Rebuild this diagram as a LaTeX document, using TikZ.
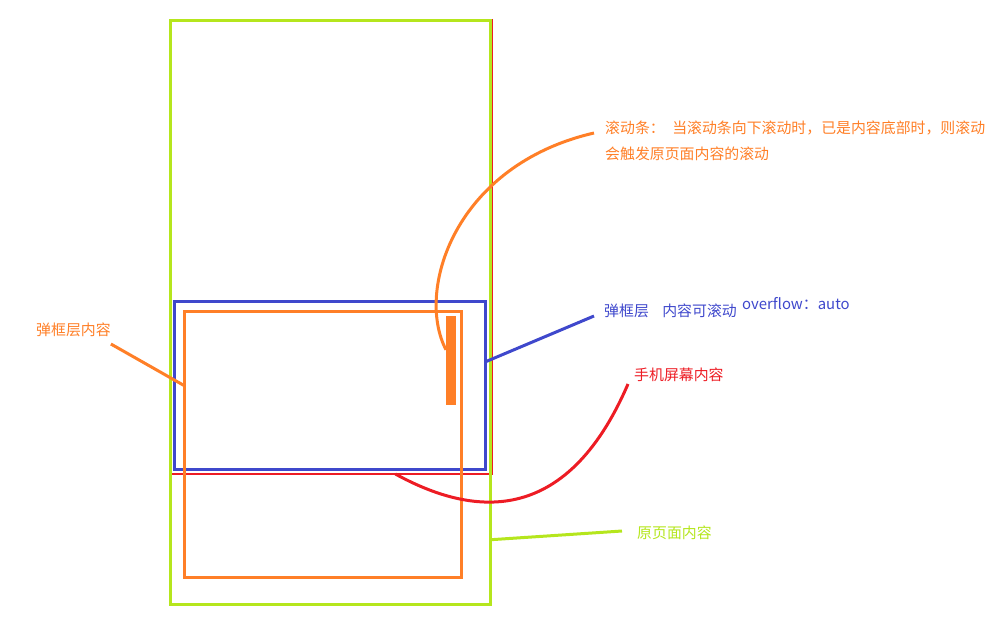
\documentclass[tikz,border=0pt]{standalone}
\usepackage{fontspec}
\setmainfont{Noto Sans CJK SC}
\usetikzlibrary{positioning,calc}
\definecolor{pagegreen}{RGB}{181,230,29}
\definecolor{popblue}{RGB}{63,72,204}
\definecolor{boxorange}{RGB}{255,127,39}
\definecolor{screenred}{RGB}{237,28,36}

\begin{document}
\begin{tikzpicture}[
		x=1pt,y=-1pt,
		box/.style={
			draw,
			fill=none,
			inner sep=0,
			outer sep=0
		},
		lbl/.style={
			anchor=west,
			inner sep=0,
			font=\fontsize{14.9}{26}\selectfont
		},
		link/.style={line width=3pt}
		]
		\useasboundingbox (0,0) rectangle (1003,633);
		% Boxes
		\node[box,draw=screenred,line width=1.5pt,minimum width=322pt,minimum height=454pt] (screen) at (331,247) {};
		\node[box,draw=pagegreen,line width=3pt,minimum width=320pt,minimum height=584pt] (page) at (330,312) {};
		\node[box,draw=popblue,line width=3pt,minimum width=311pt,minimum height=168pt] (popup) at (329.5,385) {};
		\node[box,draw=boxorange,line width=3pt,minimum width=277pt,minimum height=266pt] (content) at (322.5,444) {};
		\node[box,draw=none,fill=boxorange,minimum width=10pt,minimum height=89pt] (bar) at (451,360.5) {};
		% Labels
		\node[lbl,text=boxorange,align=left] (barlbl) at (605,141)
			{滚动条：\hspace{0.5em}当滚动条向下滚动时，已是内容底部时，则滚动\\会触发原页面内容的滚动};
		\node[lbl,text=popblue] (poplbl) at (604,311) {弹框层\hspace{0.9em}内容可滚动};
		\node[lbl,text=popblue] (overflow) at (742,304) {overflow：auto};
		\node[lbl,text=screenred] (screenlbl) at (634,375) {手机屏幕内容};
		\node[lbl,text=pagegreen] (pagelbl) at (637,533) {原页面内容};
		\node[lbl,text=boxorange] (contentlbl) at (36,330) {弹框层内容};
		% Connectors
		\draw[link,boxorange] ([xshift=-11pt,yshift=8pt]barlbl.west)
			.. controls (455,165) and (415,290) .. ($(bar.north west)!0.38!(bar.south west)$);
		\draw[link,popblue] ($(popup.north east)!0.363!(popup.south east)$) -- ([xshift=-10pt,yshift=-5pt]poplbl.west);
		\draw[link,screenred] ($(screen.south west)!0.7!(screen.south east)$)
			.. controls (470,515) and (565,530) .. ([xshift=-6pt,yshift=-9pt]screenlbl.west);
		\draw[link,pagegreen] ($(page.north east)!0.89!(page.south east)$) -- ([xshift=-15pt,yshift=2pt]pagelbl.west);
		\draw[link,boxorange] ([yshift=-14pt]contentlbl.east) -- ($(content.north west)!0.28!(content.south west)$);
\end{tikzpicture}
\end{document}
